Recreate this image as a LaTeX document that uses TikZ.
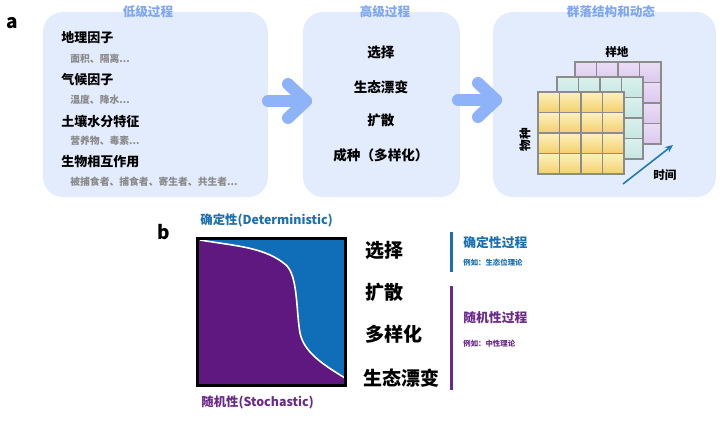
\documentclass[tikz,border=0pt]{standalone}
\usepackage{fontspec}
\setmainfont{Noto Sans CJK SC}
\usepackage{tikz}
\usepackage{xcolor}
\usetikzlibrary{arrows.meta, positioning, calc}
\definecolor{panelblue}{HTML}{E3ECFC}
\definecolor{titleblue}{HTML}{7EA6F4}
\definecolor{flowblue}{HTML}{8EB3F8}
\definecolor{detailgray}{HTML}{8A8A8A}
\definecolor{gridgray}{HTML}{8C8C8C}
\definecolor{timeblue}{HTML}{1F7BB4}
\definecolor{detblue}{HTML}{106EB8}
\definecolor{stopurple}{HTML}{5E1880}
\definecolor{detlabel}{HTML}{1C6FB0}
\definecolor{stolabel}{HTML}{6A2A8A}
\tikzstyle{panel} = [fill=panelblue, draw=none, rounded corners=10pt, inner sep=0pt]
\tikzstyle{flow} = [line width=6pt, line cap=round, line join=round, draw=flowblue]

\begin{document}
\begin{tikzpicture}[
        x=0.5pt, y=-0.5pt,
        every node/.style={inner sep=0pt},
        title/.style={font=\fontsize{6.3pt}{7pt}\selectfont\bfseries, text=titleblue},
        factor/.style={anchor=west, font=\fontsize{6.5pt}{7pt}\selectfont\bfseries},
        detail/.style={anchor=west, font=\fontsize{4.9pt}{5pt}\selectfont\bfseries, text=detailgray},
        process/.style={font=\fontsize{6.8pt}{7pt}\selectfont\bfseries},
        axis/.style={font=\fontsize{5.8pt}{6pt}\selectfont\bfseries},
        cell/.style={draw=gridgray, line width=0.75pt},
        mech/.style={anchor=west, font=\fontsize{9.5pt}{10pt}\selectfont\bfseries},
        kind/.style={anchor=west, font=\fontsize{6.4pt}{7pt}\selectfont\bfseries},
        example/.style={anchor=west, font=\fontsize{3.7pt}{4pt}\selectfont\bfseries},
        tag/.style={font=\fontsize{9.5pt}{10pt}\selectfont\bfseries},
    ]
        \useasboundingbox (0,0) rectangle (720,421);

        % panel a
        \node[tag] (taga) at (12,23) {a};
        \node[panel, minimum width=112.5pt, minimum height=92.5pt] (low) at (155.5,104.5) {};
        \node[panel, minimum width=78.5pt, minimum height=92.5pt] (high) at (381.5,104.5) {};
        \node[panel, minimum width=111.5pt, minimum height=92.5pt] (comm) at (604.5,104.5) {};
        \node[title] (lowtitle) at (148,12) {低级过程};
        \node[title] (hightitle) at (385,12) {高级过程};
        \node[title] (commtitle) at (611,12) {群落结构和动态};

        \node[factor] (geo) at (61,38) {地理因子};
        \node[detail] (geod) at (70,59) {面积、隔离...};
        \node[factor] (clim) at (61,80) {气候因子};
        \node[detail] (climd) at (70,100) {温度、降水...};
        \node[factor] (soil) at (61,121) {土壤水分特征};
        \node[detail] (soild) at (70,141) {营养物、毒素...};
        \node[factor] (bio) at (61,162) {生物相互作用};
        \node[detail] (biod) at (70,182) {被捕食者、捕食者、寄生者、共生者...};

        \node[process] (sel) at (381,52) {选择};
        \node[process] (drift) at (381,87) {生态漂变};
        \node[process] (disp) at (381,120) {扩散};
        \node[process] (spec) at (381,155) {成种（多样化）};

        \coordinate (flow1s) at (268,101);
        \coordinate (flow1t) at (306,101);
        \coordinate (flow2s) at (458,100);
        \coordinate (flow2t) at (496,100);
        \draw[flow] (flow1s) -- (flow1t);
        \draw[flow] ($(flow1t)+(-18,-17)$) -- (flow1t) -- ($(flow1t)+(-18,17)$);
        \draw[flow] (flow2s) -- (flow2t);
        \draw[flow] ($(flow2t)+(-18,-17)$) -- (flow2t) -- ($(flow2t)+(-18,17)$);

        % stacked plot x species grids
        \foreach \gx/\gy/\gt/\gb in {575/62/EADDF6/DCC8EE, 557/77/DAF1ED/C6E6E1, 538/92/FDF0C0/F3D06A}{
            \definecolor{celltop}{HTML}{\gt}
            \definecolor{cellbot}{HTML}{\gb}
            \foreach \i in {0,...,3}
                \foreach \j in {0,...,3}
                    \draw[cell, top color=celltop, bottom color=cellbot]
                        (\gx+\i*21.5, \gy+\j*20.5) rectangle ++(21.5,20.5);
        }
        \node[axis] (plots) at (617,52) {样地};
        \node[axis, rotate=90] (species) at (525,140) {物种};
        \coordinate (timefrom) at (623,184);
        \coordinate (timeto) at (673,145);
        \draw[timeblue, line width=0.8pt, -{Stealth[length=4pt, width=3.5pt]}] (timefrom) -- (timeto);
        \node[axis] (time) at (665,175) {时间};

        % panel b
        \node[tag] (tagb) at (164,232) {b};
        \coordinate (sqnw) at (198,239);
        \coordinate (sqse) at (346,386);
        \fill[stopurple] (sqnw) rectangle (sqse);
        \fill[detblue] (198,239) .. controls (235,246) and (265,247) .. (286,265)
            .. controls (298,276) and (296,310) .. (300,333)
            .. controls (304,352) and (322,364) .. (346,379) -- (346,239) -- cycle;
        \draw[white, line width=0.8pt] (200,240) .. controls (235,246) and (265,247) .. (286,265)
            .. controls (298,276) and (296,310) .. (300,333)
            .. controls (304,352) and (322,364) .. (345,378);
        \draw[black, line width=1.5pt] (sqnw) rectangle (sqse);
        \node[anchor=west, font=\fontsize{6.2pt}{7pt}\selectfont\bfseries, text=detlabel] (detname) at (200,220) {确定性(Deterministic)};
        \node[anchor=west, font=\fontsize{6.2pt}{7pt}\selectfont\bfseries, text=stolabel] (stoname) at (201,402) {随机性(Stochastic)};

        \node[mech] (msel) at (365,250) {选择};
        \node[mech] (mdisp) at (365,292) {扩散};
        \node[mech] (mdiv) at (365,334) {多样化};
        \node[mech] (mdrift) at (363,378) {生态漂变};

        \coordinate (detbar1) at (452,232);
        \coordinate (detbar2) at (452,272);
        \coordinate (stobar1) at (452,286);
        \coordinate (stobar2) at (452,390);
        \draw[detlabel, line width=1.5pt] (detbar1) -- (detbar2);
        \draw[stolabel, line width=1.5pt] (stobar1) -- (stobar2);
        \node[kind, text=detlabel] (detproc) at (463,243) {确定性过程};
        \node[example, text=detlabel] (detex) at (463,263) {例如：生态位理论};
        \node[kind, text=stolabel] (stoproc) at (463,318) {随机性过程};
        \node[example, text=stolabel] (stoex) at (463,344) {例如：中性理论};
    \end{tikzpicture}
\end{document}
